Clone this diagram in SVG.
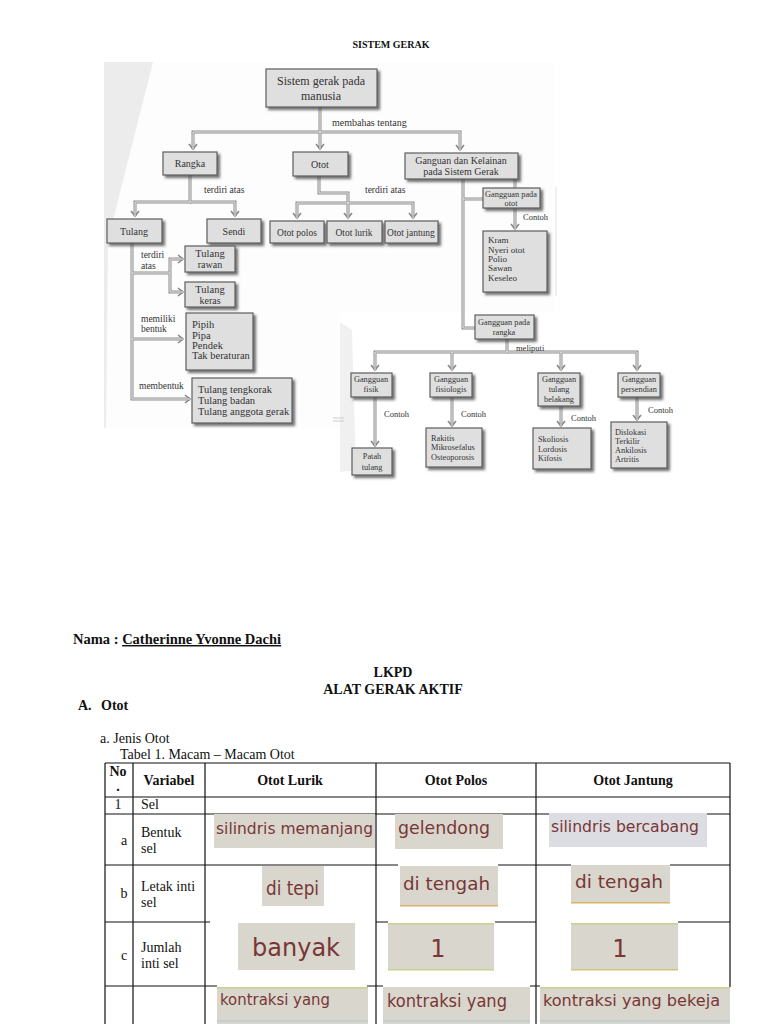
<svg xmlns="http://www.w3.org/2000/svg" xmlns:xlink="http://www.w3.org/1999/xlink" width="768" height="1024" viewBox="0 0 768 1024">
<style>
.doc{font-family:"Liberation Serif","Times New Roman",serif;fill:#111}
.b{font-weight:bold}
.node rect{fill:#dfdfdf;stroke:#5e5e5e;stroke-width:1.2;filter:url(#ds)}
.node text,.lbl{font-family:"Liberation Serif","DejaVu Serif",serif;fill:#333}
.c{text-anchor:middle}
.out{fill:none;stroke:#8e8e8e;stroke-width:3;marker-end:url(#ah)}
.na{marker-end:none}
.in{fill:none;stroke:#ededed;stroke-width:1;marker-end:none}
.tl{stroke:#111;stroke-width:1.2;fill:none}
.patch{fill:#d8d6cd}
.hw{font-family:"DejaVu Sans","Noto Sans",sans-serif;fill:#7a3636}
</style>
<defs>
<filter id="ds" x="-20%" y="-20%" width="150%" height="150%">
<feDropShadow dx="2.5" dy="2.5" stdDeviation="1" flood-color="#3a3a3a" flood-opacity="0.7"/>
</filter>
<marker id="ah" markerUnits="userSpaceOnUse" markerWidth="12" markerHeight="12" viewBox="-7 -6 9 12" refX="0" refY="0" orient="auto">
<path d="M-5,-4 L0,0 L-5,4" fill="none" stroke="#888" stroke-width="1.6"/>
</marker>
<path id="c1" d="M320,107 L320,149"/>
<path id="c2" d="M320,132 L193,132 L193,149"/>
<path id="c3" d="M320,132 L460,132 L460,150"/>
<path id="c4" d="M190,175 L190,202 L135,202 L135,216"/>
<path id="c5" d="M190,202 L235,202 L235,216"/>
<path id="c6" d="M319,176 L319,193 L348,193 L348,218"/>
<path id="c7" d="M355,203 L297,203 L297,218"/>
<path id="c8" d="M355,203 L413,203 L413,218"/>
<path id="c9" d="M463,179 L463,328 L475,328"/>
<path id="c10" d="M463,199 L483,199"/>
<path id="c11" d="M515,179 L515,188"/>
<path id="c12" d="M515,208 L515,229"/>
<path id="c13" d="M132,243 L132,399 L190,399"/>
<path id="c14" d="M132,273 L170,273"/>
<path id="c15" d="M170,273 L170,259 L183,259"/>
<path id="c16" d="M170,273 L170,292 L183,292"/>
<path id="c17" d="M132,339 L183,339"/>
<path id="c18" d="M507,339 L507,352 L375,352 L375,370"/>
<path id="c19" d="M507,352 L637,352 L637,370"/>
<path id="c20" d="M452,352 L452,370"/>
<path id="c21" d="M561,352 L561,370"/>
<path id="c22" d="M375,397 L375,446"/>
<path id="c23" d="M452,397 L452,426"/>
<path id="c24" d="M561,406 L561,426"/>
<path id="c25" d="M637,397 L637,420"/>
</defs>
<rect width="768" height="1024" fill="#fff"/>
<text class="doc b c" x="391" y="48" font-size="10">SISTEM GERAK</text>
<g id="image-bg">
<rect x="104" y="62" width="451" height="366" fill="#fdfdfd"/>
<polygon points="104,62 153,62 108,240 106,428 104,428" fill="#ececec"/>
<line x1="556" y1="186" x2="556" y2="296" stroke="#e2e2e2" stroke-width="1"/>
<rect x="340" y="312" width="335" height="165" fill="#fff"/>
<polygon points="340,322 352,330 356,470 340,472" fill="#f0f0f0"/>
<line x1="333" y1="418" x2="344" y2="418" stroke="#ccc" stroke-width="1"/>
<line x1="333" y1="421" x2="344" y2="421" stroke="#ccc" stroke-width="1"/>
</g>
<g id="connectors">
<use xlink:href="#c1" class="out"/><use xlink:href="#c2" class="out"/><use xlink:href="#c3" class="out"/>
<use xlink:href="#c4" class="out"/><use xlink:href="#c5" class="out"/><use xlink:href="#c6" class="out"/>
<use xlink:href="#c7" class="out"/><use xlink:href="#c8" class="out"/><use xlink:href="#c9" class="out na"/>
<use xlink:href="#c10" class="out na"/><use xlink:href="#c11" class="out na"/><use xlink:href="#c12" class="out"/>
<use xlink:href="#c13" class="out"/><use xlink:href="#c14" class="out na"/><use xlink:href="#c15" class="out"/>
<use xlink:href="#c16" class="out"/><use xlink:href="#c17" class="out"/><use xlink:href="#c18" class="out"/>
<use xlink:href="#c19" class="out"/><use xlink:href="#c20" class="out"/><use xlink:href="#c21" class="out"/>
<use xlink:href="#c22" class="out"/><use xlink:href="#c23" class="out"/><use xlink:href="#c24" class="out"/>
<use xlink:href="#c25" class="out"/>
<use xlink:href="#c1" class="in"/><use xlink:href="#c2" class="in"/><use xlink:href="#c3" class="in"/>
<use xlink:href="#c4" class="in"/><use xlink:href="#c5" class="in"/><use xlink:href="#c6" class="in"/>
<use xlink:href="#c7" class="in"/><use xlink:href="#c8" class="in"/><use xlink:href="#c9" class="in"/>
<use xlink:href="#c10" class="in"/><use xlink:href="#c11" class="in"/><use xlink:href="#c12" class="in"/>
<use xlink:href="#c13" class="in"/><use xlink:href="#c14" class="in"/><use xlink:href="#c15" class="in"/>
<use xlink:href="#c16" class="in"/><use xlink:href="#c17" class="in"/><use xlink:href="#c18" class="in"/>
<use xlink:href="#c19" class="in"/><use xlink:href="#c20" class="in"/><use xlink:href="#c21" class="in"/>
<use xlink:href="#c22" class="in"/><use xlink:href="#c23" class="in"/><use xlink:href="#c24" class="in"/>
<use xlink:href="#c25" class="in"/>
<g class="lbl" font-size="9.5">
<text x="332" y="126" font-size="10">membahas tentang</text>
<text x="204" y="193">terdiri atas</text>
<text x="365" y="193">terdiri atas</text>
<text x="523" y="220" font-size="8.5">Contoh</text>
<text x="141" y="258">terdiri</text>
<text x="141" y="269">atas</text>
<text x="141" y="322">memiliki</text>
<text x="141" y="332">bentuk</text>
<text x="139" y="389">membentuk</text>
<text x="516" y="351" font-size="8.5">meliputi</text>
<text x="384" y="417" font-size="8.5">Contoh</text>
<text x="461" y="417" font-size="8.5">Contoh</text>
<text x="571" y="421" font-size="8.5">Contoh</text>
<text x="648" y="413" font-size="8.5">Contoh</text>
</g>
</g>
<g id="n-top" class="node"><rect x="266" y="69" width="111" height="38"/><text class="c" x="321" y="85" font-size="12">Sistem gerak pada</text><text class="c" x="321" y="100" font-size="12">manusia</text></g>
<g id="n-rangka" class="node"><rect x="163" y="152" width="54" height="23"/><text class="c" x="190" y="167" font-size="10">Rangka</text></g>
<g id="n-otot" class="node"><rect x="293" y="152" width="55" height="24"/><text class="c" x="320" y="168" font-size="10">Otot</text></g>
<g id="n-ganguan" class="node"><rect x="405" y="153" width="113" height="26"/><text class="c" x="461" y="164" font-size="10">Ganguan dan Kelainan</text><text class="c" x="461" y="175" font-size="10">pada Sistem Gerak</text></g>
<g id="n-tulang" class="node"><rect x="107" y="219" width="55" height="24"/><text class="c" x="134" y="235" font-size="10">Tulang</text></g>
<g id="n-sendi" class="node"><rect x="207" y="219" width="54" height="24"/><text class="c" x="234" y="235" font-size="10">Sendi</text></g>
<g id="n-otot-polos" class="node"><rect x="270" y="221" width="54" height="22"/><text class="c" x="297" y="236" font-size="9.5">Otot polos</text></g>
<g id="n-otot-lurik" class="node"><rect x="327" y="221" width="55" height="22"/><text class="c" x="354" y="236" font-size="9.5">Otot lurik</text></g>
<g id="n-otot-jantung" class="node"><rect x="385" y="221" width="53" height="22"/><text class="c" x="411" y="236" font-size="9.5">Otot jantung</text></g>
<g id="n-tulang-rawan" class="node"><rect x="185" y="246" width="50" height="26"/><text class="c" x="210" y="257" font-size="10.5">Tulang</text><text class="c" x="210" y="268" font-size="10">rawan</text></g>
<g id="n-tulang-keras" class="node"><rect x="185" y="282" width="50" height="25"/><text class="c" x="210" y="293" font-size="10.5">Tulang</text><text class="c" x="210" y="304" font-size="10">keras</text></g>
<g id="n-bentuk" class="node"><rect x="186" y="313" width="67" height="57"/><text x="192" y="328" font-size="10.5">Pipih</text><text x="192" y="339" font-size="10.5">Pipa</text><text x="192" y="349" font-size="10.5">Pendek</text><text x="192" y="359" font-size="10.5">Tak beraturan</text></g>
<g id="n-membentuk" class="node"><rect x="192" y="378" width="100" height="45"/><text x="198" y="393" font-size="10.5">Tulang tengkorak</text><text x="198" y="404" font-size="10.5">Tulang badan</text><text x="198" y="415" font-size="10.5">Tulang anggota gerak</text></g>
<g id="n-gangguan-otot" class="node"><rect x="483" y="188" width="57" height="20"/><text class="c" x="511" y="197" font-size="8.3">Gangguan pada</text><text class="c" x="511" y="206" font-size="8.3">otot</text></g>
<g id="n-kram" class="node"><rect x="483" y="231" width="64" height="61"/><text x="488" y="243" font-size="9">Kram</text><text x="488" y="253" font-size="9">Nyeri otot</text><text x="488" y="262" font-size="9">Polio</text><text x="488" y="271" font-size="9">Sawan</text><text x="488" y="281" font-size="9">Keseleo</text></g>
<g id="n-gangguan-rangka" class="node"><rect x="475" y="315" width="59" height="24"/><text class="c" x="504" y="325" font-size="8.3">Gangguan pada</text><text class="c" x="504" y="335" font-size="8.3">rangka</text></g>
<g id="n-g-fisik" class="node"><rect x="351" y="373" width="41" height="24"/><text class="c" x="371" y="382" font-size="8.3">Gangguan</text><text class="c" x="371" y="392" font-size="8.3">fisik</text></g>
<g id="n-g-fisiologis" class="node"><rect x="430" y="373" width="42" height="24"/><text class="c" x="451" y="382" font-size="8.3">Gangguan</text><text class="c" x="451" y="392" font-size="8.3">fisiologis</text></g>
<g id="n-g-tulang-belakang" class="node"><rect x="538" y="373" width="42" height="33"/><text class="c" x="559" y="382" font-size="8.3">Gangguan</text><text class="c" x="559" y="392" font-size="8.3">tulang</text><text class="c" x="559" y="402" font-size="8.3">belakang</text></g>
<g id="n-g-persendian" class="node"><rect x="618" y="373" width="42" height="24"/><text class="c" x="639" y="382" font-size="8.3">Gangguan</text><text class="c" x="639" y="392" font-size="8.3">persendian</text></g>
<g id="n-patah" class="node"><rect x="352" y="448" width="40" height="27"/><text class="c" x="372" y="459" font-size="8.3">Patah</text><text class="c" x="372" y="470" font-size="8.3">tulang</text></g>
<g id="n-rakitis" class="node"><rect x="426" y="428" width="56" height="39"/><text x="431" y="441" font-size="8.3">Rakitis</text><text x="431" y="450" font-size="8.3">Mikrosefalus</text><text x="431" y="460" font-size="8.3">Osteoporosis</text></g>
<g id="n-skoliosis" class="node"><rect x="533" y="428" width="58" height="41"/><text x="538" y="442" font-size="8.3">Skoliosis</text><text x="538" y="452" font-size="8.3">Lordosis</text><text x="538" y="461" font-size="8.3">Kifosis</text></g>
<g id="n-dislokasi" class="node"><rect x="611" y="422" width="56" height="46"/><text x="615" y="435" font-size="8.3">Dislokasi</text><text x="615" y="444" font-size="8.3">Terkilir</text><text x="615" y="453" font-size="8.3">Ankilosis</text><text x="615" y="462" font-size="8.3">Artritis</text></g>
<g id="doc-text" class="doc">
<text x="73" y="644" font-size="14.5" class="b">Nama : <tspan text-decoration="underline">Catherinne Yvonne Dachi </tspan></text>
<text class="b c" x="393" y="677" font-size="14">LKPD</text>
<text class="b c" x="393" y="694" font-size="14">ALAT GERAK AKTIF</text>
<text class="b" x="78" y="710" font-size="14">A.</text>
<text class="b" x="101" y="710" font-size="14">Otot</text>
<text x="100" y="743" font-size="14">a. Jenis Otot</text>
<text x="120" y="759" font-size="14">Tabel 1. Macam – Macam Otot</text>
</g>
<g id="table">
<path class="tl" d="M105,763 H730 M105,797 H730 M105,814 H549 M707,814 H730 M105,865 H398 M498,865 H571 M670,865 H730 M105,922 H210 M376,922 H388 M495,922 H536 M678,922 H730 M105,986 H217 M367,986 H383 M530,986 H540"/>
<path class="tl" d="M105,763 V1024 M133,763 V1024 M205,763 V1024 M376,763 V1024 M536,763 V1024 M730,763 V987"/>
<g class="doc" font-size="14">
<text class="b c" x="118" y="776">No</text>
<text class="b c" x="118" y="791">.</text>
<text class="b c" x="169" y="785">Variabel</text>
<text class="b c" x="290" y="785">Otot Lurik</text>
<text class="b c" x="456" y="785">Otot Polos</text>
<text class="b c" x="633" y="785">Otot Jantung</text>
<text class="c" x="118" y="809">1</text>
<text x="141" y="809">Sel</text>
<text class="c" x="124" y="845">a</text>
<text x="141" y="837">Bentuk</text>
<text x="141" y="853">sel</text>
<text class="c" x="124" y="898">b</text>
<text x="141" y="891">Letak inti</text>
<text x="141" y="907">sel</text>
<text class="c" x="124" y="960">c</text>
<text x="141" y="952">Jumlah</text>
<text x="141" y="968">inti sel</text>
</g>
</g>
<g id="handwriting">
<rect class="patch" x="214" y="814" width="161" height="34"/>
<rect class="patch" x="395" y="814" width="108" height="35"/>
<rect x="549" y="813" width="158" height="34" fill="#dcdde2"/>
<rect class="patch" x="262" y="866" width="62" height="40"/>
<rect class="patch" x="400" y="866" width="98" height="40"/>
<rect x="400" y="905" width="98" height="1.5" fill="#d9b36a"/>
<rect class="patch" x="571" y="865" width="99" height="38"/>
<rect x="571" y="902" width="99" height="1.5" fill="#d9b36a"/>
<rect class="patch" x="238" y="923" width="117" height="47"/>
<rect class="patch" x="388" y="923" width="106" height="47"/>
<rect x="388" y="923" width="106" height="1.5" fill="#c8d28a"/>
<rect x="388" y="969" width="106" height="1.5" fill="#c8d28a"/>
<rect class="patch" x="571" y="923" width="107" height="47"/>
<rect x="571" y="923" width="107" height="1.5" fill="#c8d28a"/>
<rect x="571" y="969" width="107" height="1.5" fill="#d8c27a"/>
<rect class="patch" x="217" y="987" width="151" height="37"/>
<rect class="patch" x="383" y="987" width="147" height="37"/>
<rect class="patch" x="540" y="987" width="190" height="37"/>
<rect x="217" y="987" width="151" height="1.5" fill="#c8d28a"/>
<rect x="540" y="987" width="190" height="1.5" fill="#c8d28a"/>
<path d="M217,1021 H368 M383,1021 H530 M540,1021 H730" stroke="#a9c6d6" stroke-width="1" fill="none"/>
<text class="hw" x="216" y="834" font-size="16" textLength="157" lengthAdjust="spacingAndGlyphs">silindris memanjang</text>
<text class="hw" x="398" y="834" font-size="18" textLength="92" lengthAdjust="spacingAndGlyphs">gelendong</text>
<text class="hw" x="551" y="832" font-size="15" textLength="148" lengthAdjust="spacingAndGlyphs">silindris bercabang</text>
<text class="hw" x="266" y="895" font-size="20" textLength="53" lengthAdjust="spacingAndGlyphs">di tepi</text>
<text class="hw" x="403" y="890" font-size="18" textLength="87" lengthAdjust="spacingAndGlyphs">di tengah</text>
<text class="hw" x="575" y="888" font-size="18" textLength="88" lengthAdjust="spacingAndGlyphs">di tengah</text>
<text class="hw" x="252" y="956" font-size="24" textLength="88" lengthAdjust="spacingAndGlyphs">banyak</text>
<text class="hw c" x="438" y="957" font-size="24">1</text>
<text class="hw c" x="620" y="957" font-size="24">1</text>
<text class="hw" x="220" y="1005" font-size="15" textLength="110" lengthAdjust="spacingAndGlyphs">kontraksi yang</text>
<text class="hw" x="387" y="1007" font-size="17" textLength="120" lengthAdjust="spacingAndGlyphs">kontraksi yang</text>
<text class="hw" x="543" y="1006" font-size="16" textLength="177" lengthAdjust="spacingAndGlyphs">kontraksi yang bekeja</text>
</g>
</svg>
